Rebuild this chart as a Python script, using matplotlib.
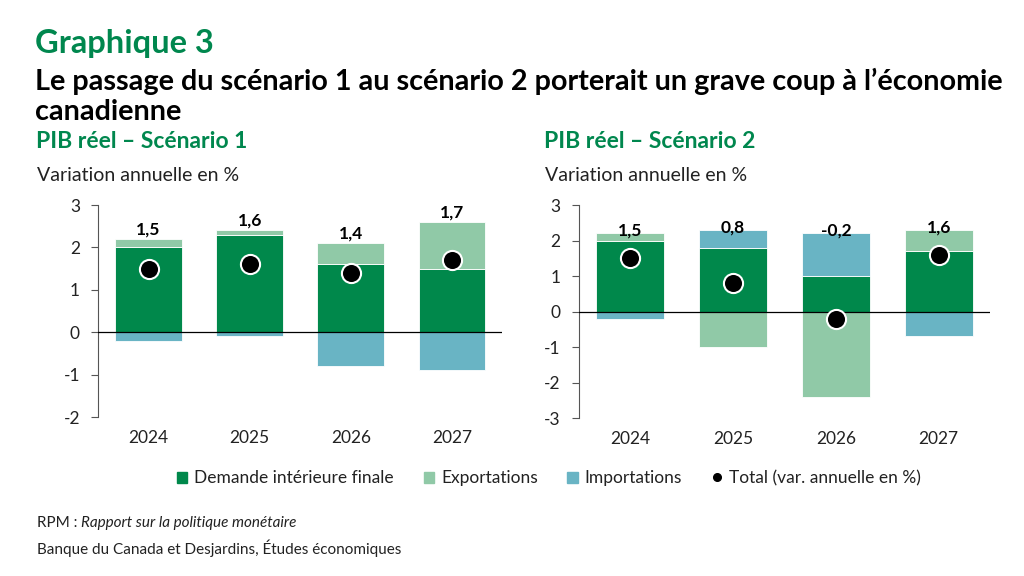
import matplotlib
matplotlib.use("Agg")
import matplotlib.pyplot as plt
from matplotlib.lines import Line2D
from matplotlib.patches import Patch
import numpy as np

years = ["2024", "2025", "2026", "2027"]
# Scenario 1
s1_dif = [2.0, 2.3, 1.6, 1.5]
s1_exp = [0.2, 0.1, 0.5, 1.1]
s1_imp = [-0.2, -0.1, -0.8, -0.9]
s1_tot = [1.5, 1.6, 1.4, 1.7]
s1_lbl = ["1,5", "1,6", "1,4", "1,7"]
# Scenario 2
s2_dif = [2.0, 1.8, 1.0, 1.7]
s2_exp = [0.2, -1.0, -2.4, 0.6]
s2_imp = [-0.2, 0.5, 1.2, -0.7]
s2_tot = [1.5, 0.8, -0.2, 1.6]
s2_lbl = ["1,5", "0,8", "-0,2", "1,6"]

C_DIF = "#00884B"
C_EXP = "#90C9A7"
C_IMP = "#69B4C4"
C_TITLE = "#00874E"
FONT = ["Lato", "DejaVu Sans"]
plt.rcParams["font.family"] = FONT

fig = plt.figure(figsize=(10.24, 5.76), dpi=100)

def draw(ax, dif, exp, imp, tot, lbl, ylim, off):
    x = np.arange(len(years))
    w = 0.66
    dif = np.array(dif); exp = np.array(exp); imp = np.array(imp)
    pos_base = np.zeros(len(x)); neg_base = np.zeros(len(x))
    for vals, col in ((dif, C_DIF), (exp, C_EXP), (imp, C_IMP)):
        bottoms = np.where(vals >= 0, pos_base, neg_base)
        ax.bar(x, vals, w, bottom=bottoms, color=col, edgecolor="white", linewidth=0.6, zorder=2)
        pos_base = pos_base + np.where(vals >= 0, vals, 0)
        neg_base = neg_base + np.where(vals < 0, vals, 0)
    ax.scatter(x, tot, s=190, color="black", edgecolor="white", linewidth=1.5, zorder=4)
    for xi, top, t in zip(x, pos_base, lbl):
        ax.annotate(t, (xi, top), xytext=(0, off), textcoords="offset points",
                    ha="center", va="center", fontsize=12.5, fontweight="bold", color="black", zorder=5)
    ax.axhline(0, color="black", linewidth=0.9, zorder=3)
    ax.set_xlim(-0.5, 3.5)
    ax.set_ylim(*ylim)
    ticks = list(range(ylim[0], ylim[1] + 1))
    ax.set_yticks(ticks)
    ax.set_yticklabels([str(v) for v in ticks])
    ax.set_xticks(x)
    ax.set_xticklabels(years)
    for s in ("top", "right", "bottom"):
        ax.spines[s].set_visible(False)
    ax.spines["left"].set_color("#555555")
    ax.tick_params(axis="y", length=5, color="#555555", labelsize=12.5, labelcolor="#222222", pad=8)
    ax.tick_params(axis="x", length=0, labelsize=12.5, labelcolor="#222222", pad=9)

ax1 = fig.add_axes([0.0957, 0.276, 0.395, 0.368])
draw(ax1, s1_dif, s1_exp, s1_imp, s1_tot, s1_lbl, (-2, 3), 7)
ax2 = fig.add_axes([0.565, 0.274, 0.402, 0.370])
draw(ax2, s2_dif, s2_exp, s2_imp, s2_tot, s2_lbl, (-3, 3), 2)

fig.text(0.034, 0.908, "Graphique 3", fontsize=23.5, fontweight="bold", color=C_TITLE, va="baseline")
fig.text(0.034, 0.844, "Le passage du scénario 1 au scénario 2 porterait un grave coup à l\u2019économie",
         fontsize=20.7, fontweight="bold", color="black", va="baseline")
fig.text(0.034, 0.792, "canadienne", fontsize=20.7, fontweight="bold", color="black", va="baseline")
fig.text(0.035, 0.743, "PIB réel – Scénario 1", fontsize=16.5, fontweight="bold", color=C_TITLE, va="baseline")
fig.text(0.531, 0.743, "PIB réel – Scénario 2", fontsize=16.5, fontweight="bold", color=C_TITLE, va="baseline")
fig.text(0.036, 0.686, "Variation annuelle en %", fontsize=14, color="#222222", va="baseline")
fig.text(0.532, 0.686, "Variation annuelle en %", fontsize=14, color="#222222", va="baseline")

handles = [Patch(color=C_DIF), Patch(color=C_EXP), Patch(color=C_IMP),
           Line2D([], [], marker="o", color="black", linestyle="none", markersize=5.5)]
labels = ["Demande intérieure finale", "Exportations", "Importations", "Total (var. annuelle en %)"]
fig.legend(handles, labels, loc="center", bbox_to_anchor=(0.536, 0.170), ncol=4, frameon=False,
           fontsize=12.5, handlelength=0.6, handleheight=0.6, handletextpad=0.4, columnspacing=1.7,
           labelcolor="#222222")

t1 = fig.text(0.036, 0.092, "RPM : ", fontsize=11, color="#222222", va="center")
fig.canvas.draw()
bb = t1.get_window_extent(renderer=fig.canvas.get_renderer())
fig.text(bb.x1 / fig.bbox.width, 0.092, "Rapport sur la politique monétaire", fontsize=11, style="italic",
         color="#222222", va="center")
fig.text(0.036, 0.048, "Banque du Canada et Desjardins, Études économiques", fontsize=11,
         color="#222222", va="center")

fig.savefig("out.png", dpi=100)
